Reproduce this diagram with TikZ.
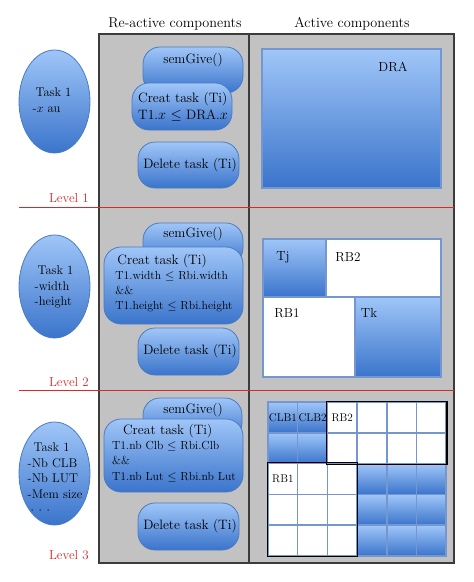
\documentclass[tikz,border=0pt]{standalone}
\usepackage{tikz}
\usetikzlibrary{shapes.geometric}

\definecolor{panelgray}{HTML}{C2C2C2}
\definecolor{paneline}{HTML}{3C3C3C}
\definecolor{btntop}{HTML}{A0C6F8}
\definecolor{btnbot}{HTML}{3A74CB}
\definecolor{btnline}{HTML}{4A7BC2}
\definecolor{cellline}{HTML}{7597D0}
\definecolor{lvlred}{HTML}{D42A2A}

\tikzset{
  btn/.style={draw=btnline, line width=0.8pt, top color=btntop, bottom color=btnbot,
    rounded corners=17pt, inner sep=0pt},
  btntext/.style={font=\fontsize{13.6}{17}\selectfont, inner sep=0pt},
  condtext/.style={font=\fontsize{11.7}{15.2}\selectfont, align=left, inner sep=0pt},
  task/.style={ellipse, draw=btnline, line width=0.8pt, top color=btntop, bottom color=btnbot,
    minimum width=71pt, minimum height=103pt, inner sep=0pt},
  tasktext/.style={font=\fontsize{12.6}{15.8}\selectfont, align=left, inner sep=0pt},
  lvl/.style={font=\fontsize{13}{14}\selectfont, text=lvlred, anchor=east, inner sep=0pt},
  head/.style={font=\fontsize{14.2}{16}\selectfont, inner sep=0pt},
  blk/.style={draw=cellline, line width=1.5pt, top color=btntop, bottom color=btnbot,
    inner sep=0pt},
  wblk/.style={draw=cellline, line width=1.5pt, fill=white, inner sep=0pt},
  cellb/.style={blk, minimum width=29.7pt, minimum height=30.8pt,
    font=\fontsize{11.2}{12}\selectfont},
  cellw/.style={wblk, minimum width=29.7pt, minimum height=30.8pt,
    font=\fontsize{11.2}{12}\selectfont},
  lbl/.style={font=\fontsize{13.2}{14}\selectfont, inner sep=0pt}
}

\begin{document}
\begin{tikzpicture}[x=1pt, y=-1pt]
\useasboundingbox (0,0) rectangle (474,582);

% panels
\fill[panelgray] (99,34) rectangle (454,563);
\draw[paneline, line width=1.3pt] (99,34) rectangle (454,563);
\draw[paneline, line width=1.3pt] (249,34) -- (249,563);
\node[head] (hre) at (175,24) {Re-active components};
\node[head] (hact) at (352,24) {Active components};

% level separators
\coordinate (s1l) at (19,207);
\coordinate (s1r) at (454,207);
\coordinate (s2l) at (19,390);
\coordinate (s2r) at (454,390);
\draw[lvlred, line width=1pt] (s1l) -- (s1r);
\draw[lvlred, line width=1pt] (s2l) -- (s2r);
\node[lvl] (lv1) at (89,198) {Level 1};
\node[lvl] (lv2) at (89,382) {Level 2};
\node[lvl] (lv3) at (89,555) {Level 3};

% level 1
\node[task] (t1) at (54.5,101.5) {};
\node[tasktext] (t1t) at (52,100) {\hspace*{3pt}Task 1\\-$x$ au};
\node[btn, minimum width=100pt, minimum height=46pt] (sg1) at (193,70) {};
\node[btntext] (sg1t) at (193,60) {semGive()};
\node[btn, minimum width=100pt, minimum height=47pt] (cr1) at (182,106.5) {};
\node[btntext, align=left] (cr1t) at (183,107) {Creat task (Ti)\\T1.$x$ $\leq$ DRA.$x$};
\node[btn, minimum width=101pt, minimum height=46pt] (dl1) at (188.5,165) {};
\node[btntext] (dl1t) at (190,165) {Delete task (Ti)};
\node[blk, minimum width=179pt, minimum height=139pt] (dra) at (351.5,118.5) {};
\node[lbl] (drat) at (393,67) {DRA};

% level 2
\node[task] (t2) at (54.5,286.5) {};
\node[tasktext] (t2t) at (54,287) {\hspace*{3pt}Task 1\\-width\\-height};
\node[btn, minimum width=100pt, minimum height=42pt] (sg2) at (193,244) {};
\node[btntext] (sg2t) at (193,234) {semGive()};
\node[btn, minimum width=139pt, minimum height=77pt] (cr2) at (173.5,285.5) {};
\node[condtext] (cr2t) at (174,283) {\hspace*{2pt}{\fontsize{13.6}{15}\selectfont Creat task (Ti)}\\
  T1.width $\leq$ Rbi.width\\\&\&\\T1.height $\leq$ Rbi.height};
\node[btn, minimum width=101pt, minimum height=47pt] (dl2) at (188.5,351.5) {};
\node[btntext] (dl2t) at (190,351.5) {Delete task (Ti)};
\node[wblk, line width=2pt, minimum width=178pt, minimum height=138pt] (fr2) at (352,308) {};
\node[blk, minimum width=63pt, minimum height=58pt] (tj) at (294.5,268) {};
\node[wblk, minimum width=115pt, minimum height=58pt] (rb2) at (383.5,268) {};
\node[wblk, minimum width=92pt, minimum height=80pt] (rb1) at (309,337) {};
\node[blk, minimum width=86pt, minimum height=80pt] (tk) at (398,337) {};
\node[lbl] (tjt) at (283,257) {Tj};
\node[lbl] (rb2t) at (348,257) {RB2};
\node[lbl] (rb1t) at (287,313) {RB1};
\node[lbl] (tkt) at (369,313) {Tk};

% level 3
\node[task] (t3) at (54.5,473.5) {};
\node[tasktext] (t3t) at (55,478) {\hspace*{6pt}Task 1\\-Nb CLB\\-Nb LUT\\-Mem size\\[-1pt]\hspace*{3pt}$\cdot\,\cdot\,\cdot$};
\node[btn, minimum width=99pt, minimum height=42pt] (sg3) at (192.5,419) {};
\node[btntext] (sg3t) at (193,410) {semGive()};
\node[btn, minimum width=139pt, minimum height=73pt] (cr3) at (173.5,455.5) {};
\node[condtext] (cr3t) at (174,453) {\hspace*{11pt}{\fontsize{13.6}{15}\selectfont Creat task (Ti)}\\
  T1.nb Clb $\leq$ Rbi.Clb\\\&\&\\T1.nb Lut $\leq$ Rbi.nb Lut};
\node[btn, minimum width=101pt, minimum height=47pt] (dl3) at (188.5,526.5) {};
\node[btntext] (dl3t) at (190,526.5) {Delete task (Ti)};

\node[cellb] (c00) at (282.85,417.4) {CLB1};
\node[cellb] (c10) at (312.55,417.4) {CLB2};
\node[cellw] (c20) at (342.25,417.4) {RB2};
\node[cellw] (c30) at (371.95,417.4) {};
\node[cellw] (c40) at (401.65,417.4) {};
\node[cellw] (c50) at (431.35,417.4) {};

\node[cellb] (c01) at (282.85,448.2) {};
\node[cellb] (c11) at (312.55,448.2) {};
\node[cellw] (c21) at (342.25,448.2) {};
\node[cellw] (c31) at (371.95,448.2) {};
\node[cellw] (c41) at (401.65,448.2) {};
\node[cellw] (c51) at (431.35,448.2) {};

\node[cellw] (c02) at (282.85,479) {RB1};
\node[cellw] (c12) at (312.55,479) {};
\node[cellw] (c22) at (342.25,479) {};
\node[cellb] (c32) at (371.95,479) {};
\node[cellb] (c42) at (401.65,479) {};
\node[cellb] (c52) at (431.35,479) {};

\node[cellw] (c03) at (282.85,509.8) {};
\node[cellw] (c13) at (312.55,509.8) {};
\node[cellw] (c23) at (342.25,509.8) {};
\node[cellb] (c33) at (371.95,509.8) {};
\node[cellb] (c43) at (401.65,509.8) {};
\node[cellb] (c53) at (431.35,509.8) {};

\node[cellw] (c04) at (282.85,540.6) {};
\node[cellw] (c14) at (312.55,540.6) {};
\node[cellw] (c24) at (342.25,540.6) {};
\node[cellb] (c34) at (371.95,540.6) {};
\node[cellb] (c44) at (401.65,540.6) {};
\node[cellb] (c54) at (431.35,540.6) {};

\draw[black, line width=1.1pt] (c20.north west) rectangle (c51.south east);
\draw[black, line width=1.1pt] (c02.north west) rectangle (c24.south east);
\end{tikzpicture}
\end{document}
